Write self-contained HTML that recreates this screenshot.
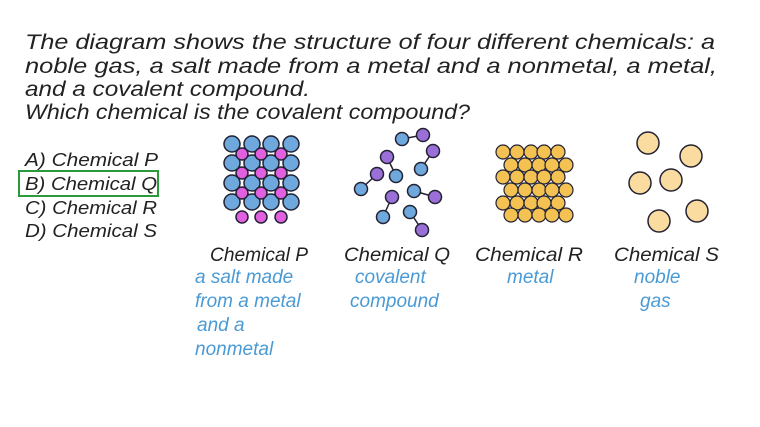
<html><body style="margin:0;width:760px;height:427px;background:#fff;overflow:hidden">
<svg width="760" height="427" xmlns="http://www.w3.org/2000/svg" font-family="Liberation Sans, sans-serif" font-style="italic">
<g font-size="21" fill="#222">
<text x="25" y="49" textLength="690" lengthAdjust="spacingAndGlyphs">The diagram shows the structure of four different chemicals: a</text>
<text x="25" y="73" textLength="692" lengthAdjust="spacingAndGlyphs">noble gas, a salt made from a metal and a nonmetal, a metal,</text>
<text x="25" y="96" textLength="285" lengthAdjust="spacingAndGlyphs">and a covalent compound.</text>
<text x="25" y="119" textLength="445" lengthAdjust="spacingAndGlyphs">Which chemical is the covalent compound?</text>
</g>
<g font-size="18" fill="#222">
<text x="25" y="166" textLength="133" lengthAdjust="spacingAndGlyphs">A) Chemical P</text>
<text x="25" y="190" textLength="132" lengthAdjust="spacingAndGlyphs">B) Chemical Q</text>
<text x="25" y="214" textLength="132" lengthAdjust="spacingAndGlyphs">C) Chemical R</text>
<text x="25" y="237" textLength="132" lengthAdjust="spacingAndGlyphs">D) Chemical S</text>
</g>
<rect x="19" y="171" width="139" height="25" fill="none" stroke="#2a9a3a" stroke-width="2"/>
<g font-size="19" fill="#222">
<text x="210" y="261" textLength="98" lengthAdjust="spacingAndGlyphs">Chemical P</text>
<text x="344" y="261" textLength="106" lengthAdjust="spacingAndGlyphs">Chemical Q</text>
<text x="475" y="261" textLength="108" lengthAdjust="spacingAndGlyphs">Chemical R</text>
<text x="614" y="261" textLength="105" lengthAdjust="spacingAndGlyphs">Chemical S</text>
</g>
<g font-size="19" fill="#4a9ad6">
<text x="195" y="283">a salt made</text>
<text x="195" y="307">from a metal</text>
<text x="197" y="331">and a</text>
<text x="195" y="355">nonmetal</text>
<text x="355" y="283">covalent</text>
<text x="350" y="307">compound</text>
<text x="507" y="283">metal</text>
<text x="634" y="283">noble</text>
<text x="640" y="307">gas</text>
</g>
<g stroke="#223" stroke-width="1.5">
<g fill="#6fa8dc">
<circle cx="232" cy="144" r="8"/><circle cx="252" cy="144" r="8"/><circle cx="271" cy="144" r="8"/><circle cx="291" cy="144" r="8"/>
<circle cx="232" cy="163" r="8"/><circle cx="252" cy="163" r="8"/><circle cx="271" cy="163" r="8"/><circle cx="291" cy="163" r="8"/>
<circle cx="232" cy="183" r="8"/><circle cx="252" cy="183" r="8"/><circle cx="271" cy="183" r="8"/><circle cx="291" cy="183" r="8"/>
<circle cx="232" cy="202" r="8"/><circle cx="252" cy="202" r="8"/><circle cx="271" cy="202" r="8"/><circle cx="291" cy="202" r="8"/>
</g>
<g fill="#e060e0">
<circle cx="242" cy="154" r="6"/><circle cx="261" cy="154" r="6"/><circle cx="281" cy="154" r="6"/>
<circle cx="242" cy="173" r="6"/><circle cx="261" cy="173" r="6"/><circle cx="281" cy="173" r="6"/>
<circle cx="242" cy="193" r="6"/><circle cx="261" cy="193" r="6"/><circle cx="281" cy="193" r="6"/>
<circle cx="242" cy="217" r="6"/><circle cx="261" cy="217" r="6"/><circle cx="281" cy="217" r="6"/>
</g>
<line x1="402" y1="139" x2="423" y2="135"/><line x1="433" y1="151" x2="421" y2="169"/>
<line x1="387" y1="157" x2="396" y2="176"/><line x1="377" y1="174" x2="361" y2="189"/>
<line x1="414" y1="191" x2="435" y2="197"/><line x1="392" y1="197" x2="383" y2="217"/>
<line x1="410" y1="212" x2="422" y2="230"/>
<g fill="#6fa8dc"><circle cx="402" cy="139" r="6.5"/><circle cx="421" cy="169" r="6.5"/><circle cx="396" cy="176" r="6.5"/><circle cx="361" cy="189" r="6.5"/><circle cx="414" cy="191" r="6.5"/><circle cx="383" cy="217" r="6.5"/><circle cx="410" cy="212" r="6.5"/></g>
<g fill="#9b6fd8"><circle cx="423" cy="135" r="6.5"/><circle cx="433" cy="151" r="6.5"/><circle cx="387" cy="157" r="6.5"/><circle cx="377" cy="174" r="6.5"/><circle cx="435" cy="197" r="6.5"/><circle cx="392" cy="197" r="6.5"/><circle cx="422" cy="230" r="6.5"/></g>
<g fill="#f4c253" stroke-width="1.2">
<circle cx="503" cy="152" r="7"/><circle cx="517" cy="152" r="7"/><circle cx="531" cy="152" r="7"/><circle cx="544" cy="152" r="7"/><circle cx="558" cy="152" r="7"/>
<circle cx="511" cy="165" r="7"/><circle cx="525" cy="165" r="7"/><circle cx="539" cy="165" r="7"/><circle cx="552" cy="165" r="7"/><circle cx="566" cy="165" r="7"/>
<circle cx="503" cy="177" r="7"/><circle cx="517" cy="177" r="7"/><circle cx="531" cy="177" r="7"/><circle cx="544" cy="177" r="7"/><circle cx="558" cy="177" r="7"/>
<circle cx="511" cy="190" r="7"/><circle cx="525" cy="190" r="7"/><circle cx="539" cy="190" r="7"/><circle cx="552" cy="190" r="7"/><circle cx="566" cy="190" r="7"/>
<circle cx="503" cy="203" r="7"/><circle cx="517" cy="203" r="7"/><circle cx="531" cy="203" r="7"/><circle cx="544" cy="203" r="7"/><circle cx="558" cy="203" r="7"/>
<circle cx="511" cy="215" r="7"/><circle cx="525" cy="215" r="7"/><circle cx="539" cy="215" r="7"/><circle cx="552" cy="215" r="7"/><circle cx="566" cy="215" r="7"/>
</g>
<g fill="#fbdca0">
<circle cx="648" cy="143" r="11"/><circle cx="691" cy="156" r="11"/><circle cx="640" cy="183" r="11"/><circle cx="671" cy="180" r="11"/><circle cx="697" cy="211" r="11"/><circle cx="659" cy="221" r="11"/>
</g>
</g>
</svg>
</body></html>
